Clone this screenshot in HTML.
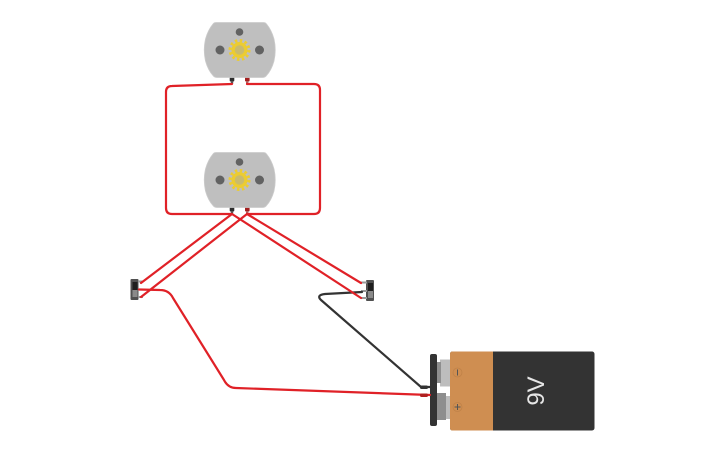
<!DOCTYPE html>
<html><head><meta charset="utf-8"><style>html,body{margin:0;padding:0;background:#fff}svg{display:block}</style></head>
<body>
<svg width="725" height="453" viewBox="0 0 725 453" xmlns="http://www.w3.org/2000/svg">
<defs>
<g id="motor">
  <rect x="229.700" y="76" width="4.600" height="5.500" rx="1" fill="#2e2e2e"/>
  <rect x="245" y="76" width="4.600" height="5.500" rx="1" fill="#a32020"/>
  <rect x="230.800" y="81" width="2.400" height="3" fill="#555"/>
  <rect x="246" y="81" width="2.400" height="3" fill="#b06060"/>
  <path d="M216,22.500 Q214,22.500 213,24 Q208,30 205.500,39 Q203,50 205.500,61 Q208,70 213,75.500 Q214.500,77.500 217,77.500 L262.500,77.500 Q265,77.500 266.500,75.500 Q271.500,70 274,61 Q276.500,50 274,39 Q271.500,30 266.500,24 Q265.500,22.500 263.500,22.500 Z" fill="#bfbfbf" stroke="#cbcbcb" stroke-width="0.800"/>
  <circle cx="239.500" cy="32" r="3.800" fill="#626262"/>
  <circle cx="220" cy="50" r="4.500" fill="#626262"/>
  <circle cx="259.500" cy="50" r="4.500" fill="#626262"/>
  <circle cx="239.500" cy="50" r="8" fill="#eccc30"/>
  <circle cx="239.500" cy="50" r="9.500" fill="none" stroke="#eccc30" stroke-width="3" stroke-dasharray="2.500 2.470"/>
  <circle cx="239.500" cy="50" r="4.800" fill="#c9bb6e"/>
</g>
<g id="sw">
  <rect x="0" y="0" width="8" height="21" rx="1" fill="#505050"/>
  <rect x="2" y="3" width="5" height="8" fill="#1e1e1e"/>
  <rect x="2" y="11" width="5" height="7" fill="#8a8a8a"/>
</g>
</defs>

<use href="#motor"/>
<use href="#motor" y="130"/>

<!-- left switch -->
<use href="#sw" x="130.500" y="279"/>
<rect x="138" y="280.500" width="5" height="2" fill="#999"/>
<rect x="138" y="288.500" width="5" height="2" fill="#999"/>
<rect x="138" y="296" width="5" height="2" fill="#999"/>
<!-- right switch -->
<use href="#sw" x="366" y="280"/>
<rect x="361" y="281.500" width="6" height="2" fill="#999"/>
<rect x="361" y="290" width="6" height="2" fill="#999"/>
<rect x="361" y="297" width="6" height="2" fill="#999"/>

<!-- battery -->
<rect x="440" y="359.500" width="11" height="27" fill="#bdbdbd"/>
<rect x="437" y="362" width="4" height="21" fill="#8e8e8e"/>
<rect x="445" y="396" width="6" height="23" fill="#bdbdbd"/>
<rect x="437" y="393" width="9" height="27" fill="#8e8e8e"/>
<rect x="430" y="354" width="7" height="72" rx="2" fill="#333"/>
<rect x="450" y="351.500" width="144.500" height="79" rx="2.500" fill="#333"/>
<path d="M452.500,351.500 H493 V430.500 H452.500 Q450,430.500 450,428 V354 Q450,351.500 452.500,351.500 Z" fill="#cf8e51"/>
<circle cx="457.500" cy="372.500" r="4.500" fill="none" stroke="#c08248" stroke-width="0.800"/>
<circle cx="457.500" cy="407" r="4.500" fill="none" stroke="#c08248" stroke-width="0.800"/>
<rect x="457" y="369.500" width="1" height="6" fill="#555"/>
<rect x="454.500" y="406.500" width="6" height="1" fill="#555"/>
<rect x="457" y="404" width="1" height="6" fill="#555"/>
<text transform="translate(544,391) rotate(-90)" text-anchor="middle" font-family="'Liberation Sans',sans-serif" font-size="24" fill="#e6e6e6">9V</text>

<!-- wires -->
<g fill="none" stroke-linecap="round" stroke-linejoin="round">
  <path d="M362,292 L325,294 Q316,295 321,300 L421,387 L430,387" stroke="#333" stroke-width="2.200"/>
  <g stroke="#e02127" stroke-width="2.200">
    <path d="M232,84 L172,86 Q166,86 166,92 L166,208 Q166,214 172,214 L232,214"/>
    <path d="M247,84 L314,84 Q320,84 320,90 L320,208 Q320,214 314,214 L247,214"/>
    <path d="M232,214 L141,283"/>
    <path d="M247,214 L141,297"/>
    <path d="M232,214 L361,298"/>
    <path d="M247,214 L361,283"/>
    <path d="M139,289.500 L160,290 Q169,290 173,298 L224,380 Q228,388 236,388 L430,395"/>
  </g>
</g>
<rect x="420" y="385.500" width="8" height="3.500" rx="1.500" fill="#333"/>
<rect x="420" y="393.500" width="8" height="3.500" rx="1.500" fill="#b02020"/>
</svg>
</body></html>
